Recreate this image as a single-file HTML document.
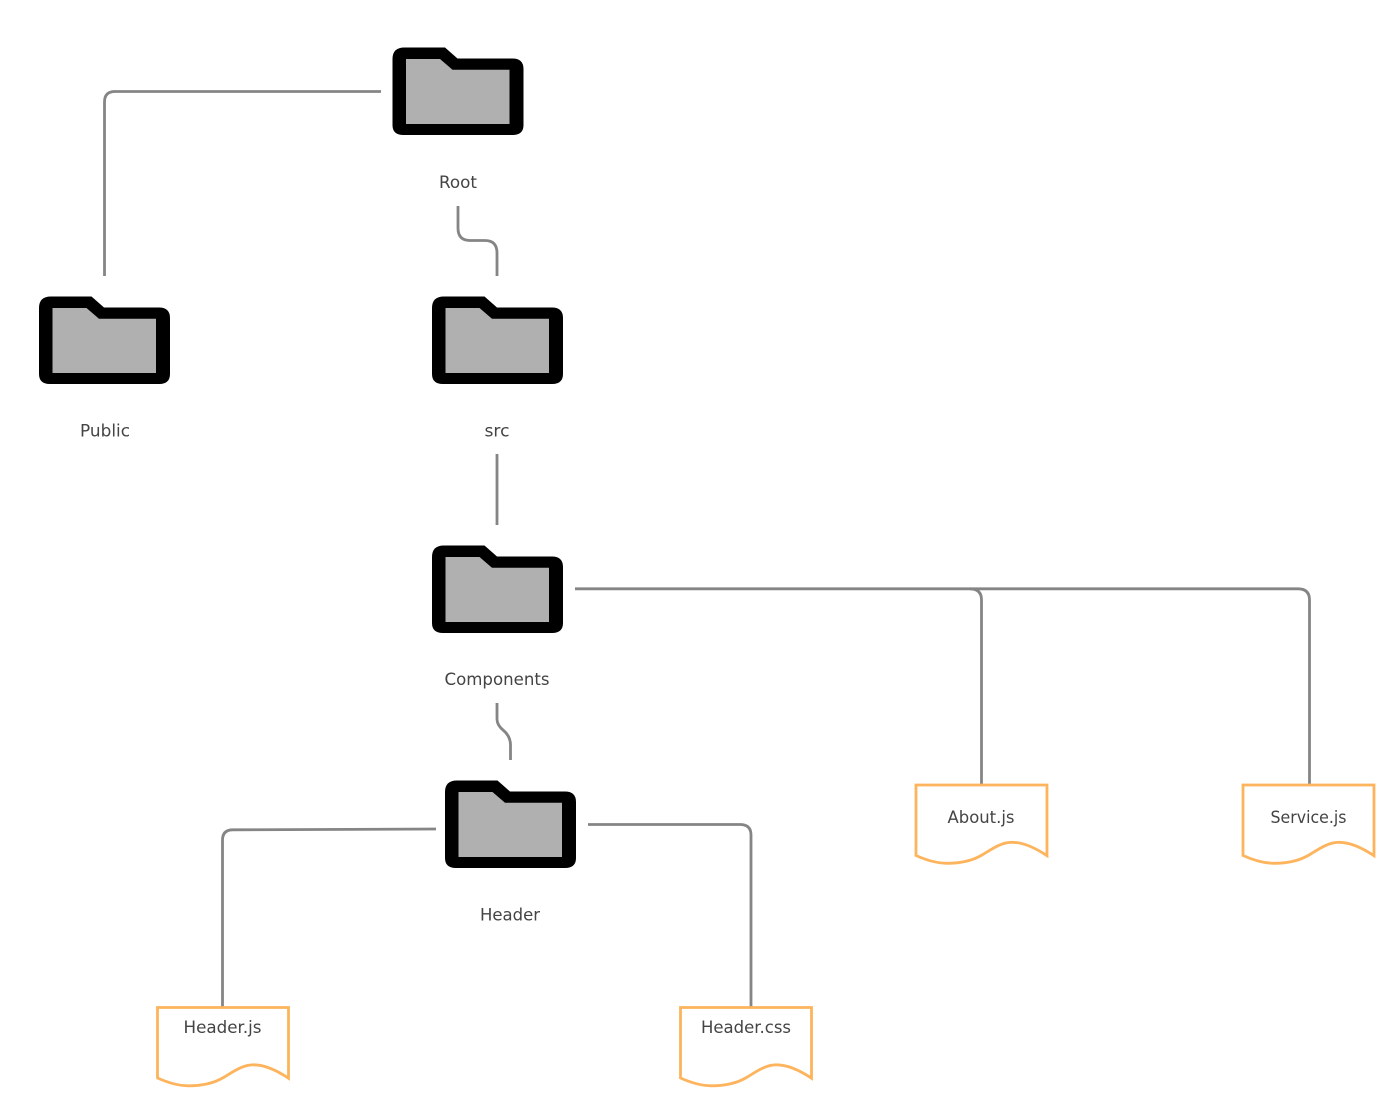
<!DOCTYPE html>
<html>
<head>
<meta charset="utf-8">
<style>
html,body{margin:0;padding:0;background:#fff;}
svg{display:block;}
text{font-family:"DejaVu Sans","Liberation Sans",sans-serif;font-size:16.6px;fill:#444;text-anchor:middle;}
.c{fill:none;stroke:#858585;stroke-width:2.8;}
.d{fill:#fff;stroke:#fdb45c;stroke-width:2.8;}
</style>
</head>
<body>
<svg width="1400" height="1112" viewBox="0 0 1400 1112" xmlns="http://www.w3.org/2000/svg">
<defs>
<g id="folder">
<path d="M0 12 Q0 0.5 12 0.5 L52.500 0.500 L65 11.500 L120 11.500 Q131 11.500 131 22 L131 78 Q131 88 120 88 L11 88 Q0 88 0 78 Z" fill="#000"/>
<path d="M13.500 12 L47.500 12 L60 22.700 L117 22.700 L117 77 L13.500 77 Z" fill="#b0b0b0"/>
</g>
<g id="doc">
<path d="M0 0 L131 0 L131 70.700 C118 62 107 57.300 96 57.300 C85 57.300 76 64 66 70 C56 76 43 78.300 31 78.300 C20 78.300 10 75 0 70.500 Z"/>
</g>
</defs>

<!-- connectors -->
<path class="c" d="M381 91.500 L115 91.500 Q104.500 91.500 104.500 102 L104.500 276"/>
<path class="c" d="M458 206 L458 228 Q458 240.500 470 240.500 L485 240.500 Q497 240.500 497 253 L497 276"/>
<path class="c" d="M497 454 L497 525"/>
<path class="c" d="M575 588.800 L970 588.800 Q981.500 588.800 981.500 600 L981.500 785"/>
<path class="c" d="M970 588.800 L1298 588.800 Q1309.500 588.800 1309.500 600 L1309.500 785"/>
<path class="c" d="M497 703 L497 719 Q497 725 503 730 Q510.500 736 510.500 745 L510.500 760"/>
<path class="c" d="M436 829 L233 829.800 Q222.500 829.800 222.500 840 L222.500 1007"/>
<path class="c" d="M588 824.500 L740 824.500 Q751 824.500 751 835 L751 1007"/>

<!-- folders -->
<use href="#folder" x="392.500" y="47"/>
<use href="#folder" x="39" y="296"/>
<use href="#folder" x="432" y="296"/>
<use href="#folder" x="432" y="545"/>
<use href="#folder" x="445" y="780"/>

<!-- documents -->
<use href="#doc" class="d" x="916" y="785"/>
<use href="#doc" class="d" x="1243" y="785"/>
<use href="#doc" class="d" x="157.500" y="1007.500"/>
<use href="#doc" class="d" x="680.500" y="1007.500"/>

<!-- labels -->
<text x="458" y="188" textLength="38" lengthAdjust="spacingAndGlyphs">Root</text>
<text x="105" y="436.500" textLength="50" lengthAdjust="spacingAndGlyphs">Public</text>
<text x="497" y="436.500" textLength="25" lengthAdjust="spacingAndGlyphs">src</text>
<text x="497" y="685" textLength="105" lengthAdjust="spacingAndGlyphs">Components</text>
<text x="510" y="920.500" textLength="60" lengthAdjust="spacingAndGlyphs">Header</text>
<text x="981" y="823" textLength="67" lengthAdjust="spacingAndGlyphs">About.js</text>
<text x="1308.500" y="823" textLength="76" lengthAdjust="spacingAndGlyphs">Service.js</text>
<text x="222.500" y="1033" textLength="78" lengthAdjust="spacingAndGlyphs">Header.js</text>
<text x="746" y="1033" textLength="90" lengthAdjust="spacingAndGlyphs">Header.css</text>
</svg>
</body>
</html>
